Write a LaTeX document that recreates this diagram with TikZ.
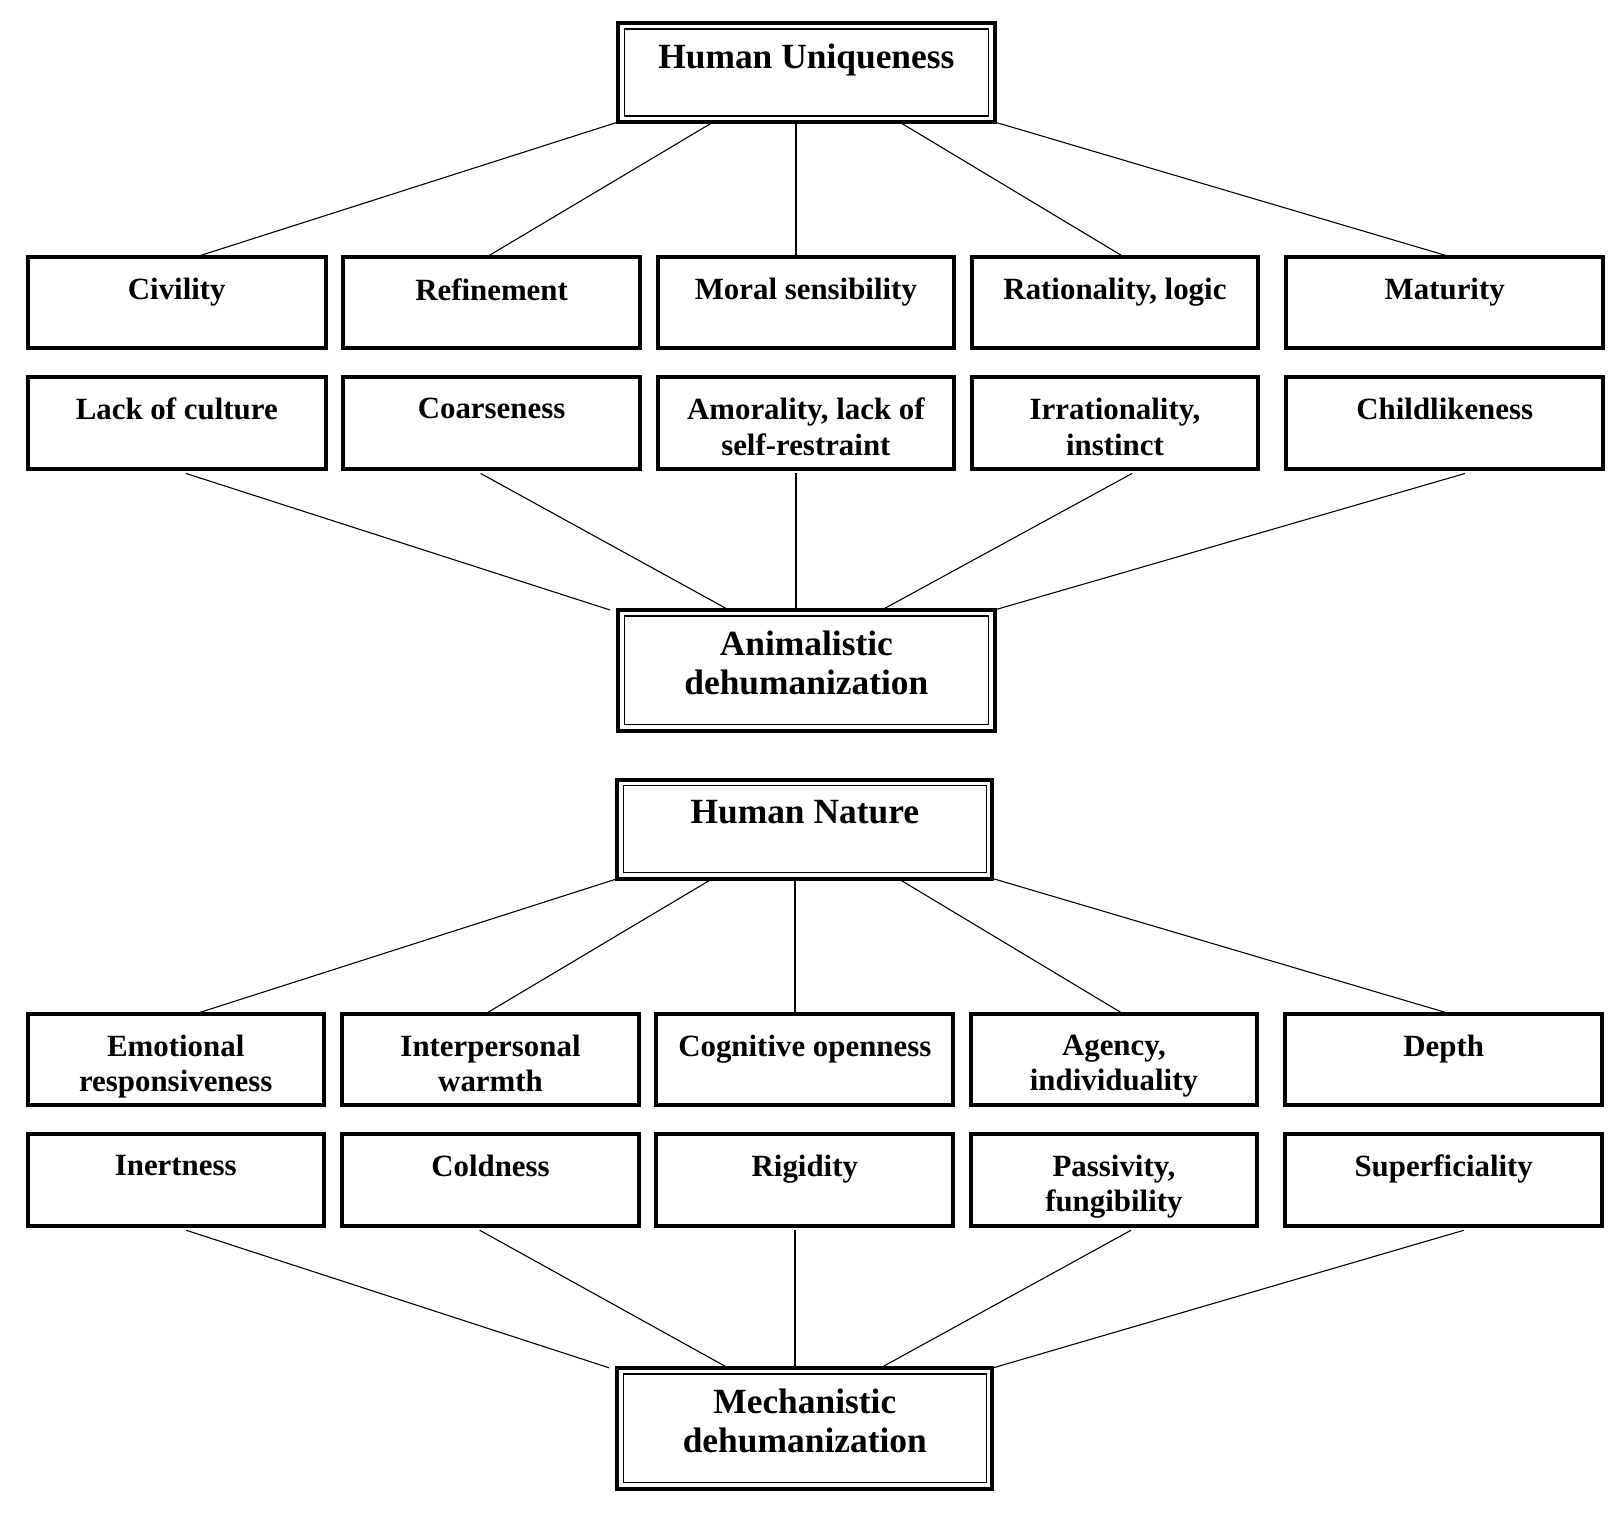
\documentclass[tikz,border=0pt]{standalone}
\usepackage{fontspec}
\setmainfont{Liberation Serif}
\usetikzlibrary{calc}
\begin{document}
\begin{tikzpicture}[x=0.02cm,y=-0.02cm,
 sbox/.style={draw,line width=2.2pt},
 stxt/.style={font=\fontsize{17pt}{19.5pt}\selectfont\bfseries,align=center,anchor=north},
 btxt/.style={font=\fontsize{19.5pt}{21.5pt}\selectfont\bfseries,align=center,anchor=north},
 ln/.style={line width=0.6pt}]
\useasboundingbox (0,0) rectangle (1568,1465);
\newcommand{\mainbx}[6]{%
 \draw[line width=2.2pt] (#2,#3) rectangle (#4,#5);
 \draw[line width=0.8pt] (#2+6,#3+6) rectangle (#4-6,#5-6);
 \coordinate (#1sw) at (#2,#5); \coordinate (#1nw) at (#2,#3);
 \node[btxt] (#1) at ({(#2+#4)/2},#3+14) {#6};}
\newcommand{\sbx}[6]{%
 \draw[sbox] (#2,#3) rectangle (#4,#5);
 \coordinate (#1nw) at (#2,#3); \coordinate (#1sw) at (#2,#5);
 \node[stxt] (#1) at ({(#2+#4)/2},#3+14) {#6};}
\mainbx{hu}{598}{22}{962}{118}{Human Uniqueness}
\mainbx{ad}{598}{590}{962}{707}{Animalistic\\dehumanization}
\mainbx{hn}{597}{754}{960}{850}{Human Nature}
\mainbx{md}{597}{1323}{960}{1440}{Mechanistic\\dehumanization}
\sbx{a1}{27}{249}{315}{337}{Civility}
\sbx{a2}{332}{249}{619}{337}{Refinement}
\sbx{a3}{636}{249}{923}{337}{Moral sensibility}
\sbx{a4}{940}{249}{1217}{337}{Rationality, logic}
\sbx{a5}{1244}{249}{1551}{337}{Maturity}
\sbx{b1}{27}{365}{315}{454}{Lack of culture}
\sbx{b2}{332}{365}{619}{454}{Coarseness}
\sbx{b3}{636}{365}{923}{454}{Amorality, lack of\\self-restraint}
\sbx{b4}{940}{365}{1217}{454}{Irrationality,\\instinct}
\sbx{b5}{1244}{365}{1551}{454}{Childlikeness}
\sbx{c1}{27}{981}{313}{1069}{Emotional\\responsiveness}
\sbx{c2}{331}{981}{618}{1069}{Interpersonal\\warmth}
\sbx{c3}{635}{981}{922}{1069}{Cognitive openness}
\sbx{c4}{939}{981}{1216}{1069}{Agency,\\individuality}
\sbx{c5}{1243}{981}{1550}{1069}{Depth}
\sbx{d1}{27}{1097}{313}{1186}{Inertness}
\sbx{d2}{331}{1097}{618}{1186}{Coldness}
\sbx{d3}{635}{1097}{922}{1186}{Rigidity}
\sbx{d4}{939}{1097}{1216}{1186}{Passivity,\\fungibility}
\sbx{d5}{1243}{1097}{1550}{1186}{Superficiality}
\foreach \m/\r in {hu/a,hn/c}{
 \foreach \i/\dx/\rx in {1/0/161,2/92/138,3/172/134,4/272/148,5/364/161}{
  \draw[ln] ($(\m sw)+(\dx,0)$) -- ($(\r\i nw)+(\rx,0)$);}}
\foreach \m/\r in {ad/b,md/d}{
 \foreach \i/\dx/\rx in {1/-8/153,2/107/133,3/172/134,4/255/155,5/364/173}{
  \draw[ln] ($(\r\i sw)+(\rx,4)$) -- ($(\m nw)+(\dx,0)$);}}
\end{tikzpicture}
\end{document}
